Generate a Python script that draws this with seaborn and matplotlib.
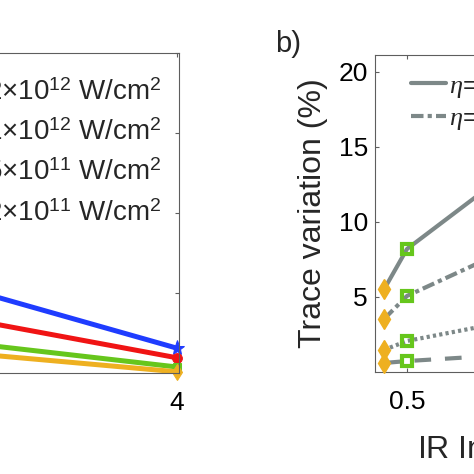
import matplotlib
matplotlib.use("Agg")
import matplotlib.pyplot as plt
import seaborn as sns
from matplotlib.lines import Line2D

# ---------------- data ----------------
# panel a (left, mostly cropped)
a_x = [2, 4]
a_blue = [1.09, 0.31]
a_red = [0.70, 0.19]
a_green = [0.39, 0.075]
a_orange = [0.26, 0.015]
a_labels = ["2×10$^{12}$ W/cm$^2$", "1×10$^{12}$ W/cm$^2$",
            "5×10$^{11}$ W/cm$^2$", "2×10$^{11}$ W/cm$^2$"]
a_xticks = [1, 2, 4]
a_xticklabels = ["1", "2", "4"]
a_yticks = [0, 1, 2, 3, 4]

# panel b (right, cropped)
b_x = [0.4, 0.5, 1.0]
b_solid = [5.5, 8.2, 14.0]
b_dashdot = [3.53, 5.07, 8.6]
b_dotted = [1.47, 2.07, 3.55]
b_dashed = [0.6, 0.73, 1.2]
b_labels = ["$\\eta$=1", "$\\eta$=0.5"]
b_xticks = [0.5, 1.0, 1.5]
b_xticklabels = ["0.5", "1", "1.5"]
b_yticks = [5, 10, 15, 20]
b_yticklabels = ["5", "10", "15", "20"]

# ---------------- style ----------------
sns.set_theme(style="ticks")
plt.rcParams["font.family"] = ["Liberation Sans", "DejaVu Sans"]
plt.rcParams["mathtext.fontset"] = "custom"
plt.rcParams["mathtext.rm"] = "Liberation Sans"
plt.rcParams["mathtext.it"] = "Liberation Serif:italic"
plt.rcParams["mathtext.bf"] = "Liberation Sans:bold"
plt.rcParams["lines.scale_dashes"] = False

SPINE = "#5e5e5e"
GRAY = "#7d8888"
BLUE = "#1f3cff"
RED = "#f01414"
GREEN = "#66c61c"
ORANGE = "#eeb020"
FS_TICK = 19
FS_LEGA = 20
FS_LAB = 23

W = H = 474.0
fig = plt.figure(figsize=(4.74, 4.74), dpi=100)


def rect(l, t, r, b):
    return [l / W, 1 - b / H, (r - l) / W, (b - t) / H]


axA = fig.add_axes(rect(-160, 53, 179, 373))
axB = fig.add_axes(rect(375, 55, 735, 372))

for ax in (axA, axB):
    for s in ax.spines.values():
        s.set_color(SPINE)
        s.set_linewidth(0.8)
    ax.tick_params(direction="in", length=3, width=0.8, color=SPINE,
                   top=True, right=True, labelsize=FS_TICK, labelcolor="black")
    ax.tick_params(axis="x", pad=13)
    ax.tick_params(axis="y", pad=5)

# ---------------- panel a ----------------
a_series = [(a_blue, BLUE, "*", 11), (a_red, RED, "o", 7),
            (a_green, GREEN, "s", 6), (a_orange, ORANGE, "d", 8)]
handlesA = []
for (vals, col, mk, ms), lab in zip(a_series, a_labels):
    sns.lineplot(x=a_x, y=vals, ax=axA, color=col, lw=3.6, marker=mk,
                 markersize=ms, markeredgecolor=col, clip_on=False)
    handlesA.append(Line2D([], [], color=col, lw=3.6, marker=mk,
                           markersize=ms, markeredgecolor=col))
axA.set_xlim(0.936, 4.018)
axA.set_ylim(0, 4)
axA.set_xticks(a_xticks)
axA.set_xticklabels(a_xticklabels)
axA.set_yticks(a_yticks)
axA.tick_params(axis="y", labelleft=False)
legA = axA.legend(handlesA, a_labels, loc="upper left",
                  bbox_to_anchor=(-103.3 / W, 1 - 68.4 / H),
                  bbox_transform=fig.transFigure, frameon=False,
                  fontsize=FS_LEGA, labelspacing=0.5, borderaxespad=0,
                  handlelength=2.0, handletextpad=0.8, borderpad=0.4)

# ---------------- panel b ----------------
b_series = [(b_solid, "-"), (b_dashdot, (0, (9, 3, 3, 3))),
            (b_dotted, (0, (2.3, 2.3))), (b_dashed, (0, (12, 10)))]
mk_styles = [("d", ORANGE, 10, 1.0, ORANGE), ("s", GREEN, 6.5, 3.0, "none"),
             ("o", RED, 7, 1.0, RED)]
for vals, ls in b_series:
    sns.lineplot(x=b_x, y=vals, ax=axB, color=GRAY, lw=3.0, linestyle=ls)
    for xv, yv, (mk, col, ms, mew, mfc) in zip(b_x, vals, mk_styles):
        axB.plot([xv], [yv], linestyle="none", marker=mk, markersize=ms,
                 markeredgecolor=col, markerfacecolor=mfc,
                 markeredgewidth=mew, zorder=5, clip_on=False)
axB.set_xlim(0.3609, 1.9261)
axB.set_ylim(0, 21.13)
axB.set_xticks(b_xticks)
axB.set_xticklabels(b_xticklabels)
axB.set_yticks(b_yticks)
axB.set_yticklabels(b_yticklabels)

handlesB = [Line2D([], [], color=GRAY, lw=3.0, linestyle=b_series[0][1]),
            Line2D([], [], color=GRAY, lw=3.0, linestyle=b_series[1][1])]
legB = axB.legend(handlesB, b_labels, loc="upper left",
                  bbox_to_anchor=(400 / W, 1 - 62 / H),
                  bbox_transform=fig.transFigure, frameon=False,
                  fontsize=FS_TICK, labelspacing=0.21, borderaxespad=0,
                  handlelength=1.36, handletextpad=0.11, borderpad=0.4)

axB.set_ylabel("Trace variation (%)", fontsize=FS_LAB, va="center")
axB.yaxis.set_label_coords((313.5 - 375) / 360.0, 0.5)
axB.set_xlabel("IR Intensity (10$^{12}$ W/cm$^2$)", fontsize=FS_LAB,
               ha="left", va="baseline")
axB.xaxis.set_label_coords((417 - 375) / 360.0, -(459 - 372) / 317.0)

fig.text(275 / W, 1 - 52 / H, "b)", fontsize=21, ha="left", va="baseline")

fig.savefig("out.png", dpi=100)
